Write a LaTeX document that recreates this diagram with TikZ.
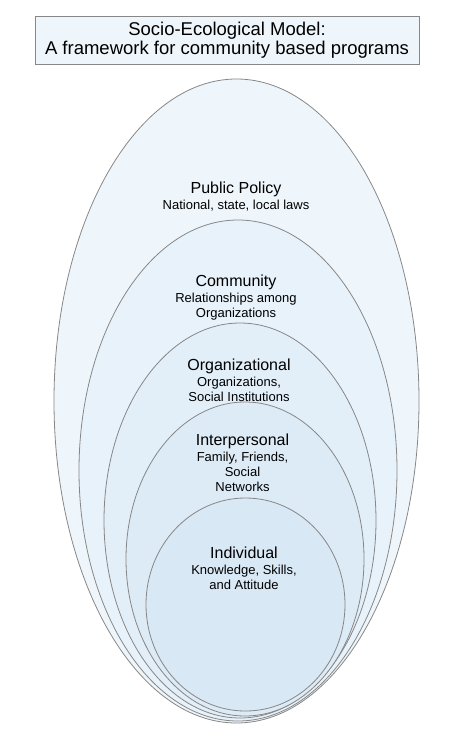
\documentclass[tikz,border=0pt]{standalone}
\usepackage{fontspec}
\setmainfont{Liberation Sans}
\usetikzlibrary{positioning,shapes.geometric}

\definecolor{ringline}{HTML}{878787}
\definecolor{ringA}{HTML}{EFF6FB}
\definecolor{ringB}{HTML}{E8F2FA}
\definecolor{ringC}{HTML}{E2EEF8}
\definecolor{ringD}{HTML}{DDEBF6}
\definecolor{ringE}{HTML}{D9E8F5}

\begin{document}
\begin{tikzpicture}[
  x=1pt, y=-1pt,
  ring/.style={ellipse, draw=ringline, line width=0.8pt, inner sep=0pt},
  titlebox/.style={draw=ringline, fill=ringA, line width=0.8pt, minimum width=384pt, minimum height=48pt, inner sep=0pt, align=center, font=\fontsize{18.5}{19}\selectfont},
  layerhead/.style={anchor=base, inner sep=0pt, font=\fontsize{16}{17}\selectfont},
  layernote/.style={inner sep=0pt, align=center, font=\fontsize{13}{15}\selectfont}
]
  \useasboundingbox (0,0) rectangle (470,737);

  \node[titlebox] (title) at (227,40) {Socio-Ecological Model:\\A framework for community based programs};

  % nested levels, outermost first
  \node[ring, fill=ringA, minimum width=365pt, minimum height=644pt] (policy) at (236.5,401) {};
  \node[ring, fill=ringB, minimum width=318pt, minimum height=501pt] (community) at (238,470.5) {};
  \node[ring, fill=ringC, minimum width=272pt, minimum height=395pt] (organization) at (240,520.5) {};
  \node[ring, fill=ringD, minimum width=238pt, minimum height=314pt] (interpersonal) at (245,559) {};
  \node[ring, fill=ringE, minimum width=199pt, minimum height=213pt] (individual) at (245.5,604.5) {};

  \node[layerhead] (policyhead) at (236,193) {Public Policy};
  \node[layernote, below=6.5pt of policyhead.base] (policynote) {National, state, local laws};

  \node[layerhead] (communityhead) at (236,286) {Community};
  \node[layernote, below=6.5pt of communityhead.base] (communitynote) {Relationships among\\Organizations};

  \node[layerhead] (organizationhead) at (239,370) {Organizational};
  \node[layernote, below=6.5pt of organizationhead.base] (organizationnote) {Organizations,\\Social Institutions};

  \node[layerhead] (interpersonalhead) at (242.5,445) {Interpersonal};
  \node[layernote, below=6.5pt of interpersonalhead.base] (interpersonalnote) {Family, Friends,\\Social\\Networks};

  \node[layerhead] (individualhead) at (244,558) {Individual};
  \node[layernote, below=6.5pt of individualhead.base] (individualnote) {Knowledge, Skills,\\and Attitude};
\end{tikzpicture}
\end{document}
